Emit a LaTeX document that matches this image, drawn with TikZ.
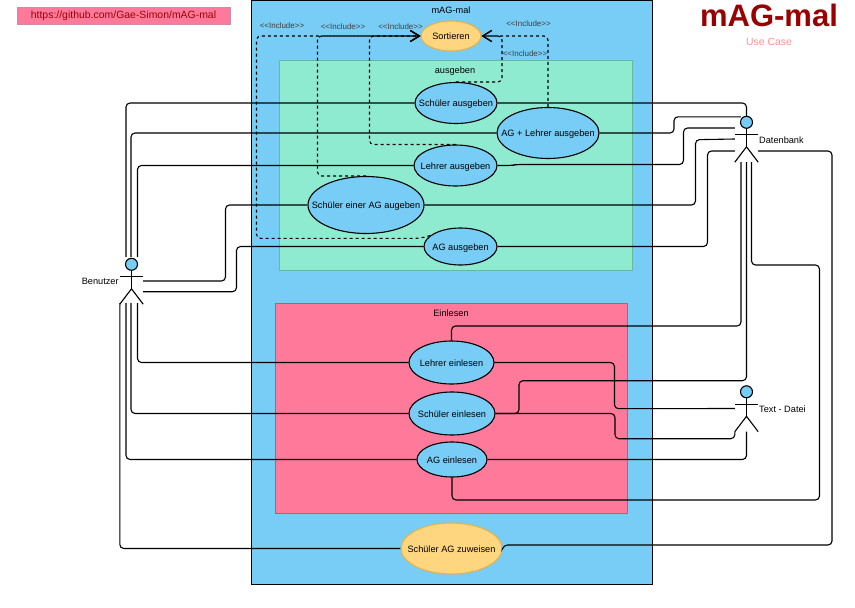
\documentclass[tikz,border=0pt]{standalone}
\usepackage{fontspec}
\setmainfont{Liberation Sans}
\usetikzlibrary{shapes.geometric, arrows.meta, positioning}
\definecolor{sysblue}{HTML}{77CDF5}
\definecolor{ausgreen}{HTML}{8FEBCF}
\definecolor{ausedge}{HTML}{66B89E}
\definecolor{einpink}{HTML}{FF7A9A}
\definecolor{einedge}{HTML}{B85C78}
\definecolor{sortfill}{HTML}{FFD680}
\definecolor{sortedge}{HTML}{E3B34A}
\definecolor{darkred}{HTML}{990000}
\definecolor{softred}{HTML}{FF9090}
\newcommand{\uc}[1]{\makebox[0pt]{\raisebox{-3.5pt}[0pt][0pt]{#1}}}

\begin{document}
\begin{tikzpicture}[
    x=1pt, y=-1pt,
    system/.style = {rectangle, minimum width=401pt, minimum height=584pt, inner sep=0pt,
                     draw=black, fill=sysblue, thick},
    group/.style = {rectangle, minimum width=353pt, minimum height=210pt, inner sep=0pt, thick},
    usecase/.style = {ellipse, inner sep=0pt, draw=black, fill=sysblue, line width=1.1pt,
                      font=\fontsize{9.2}{11}\selectfont},
    extra/.style = {ellipse, inner sep=0pt, draw=sortedge, fill=sortfill, line width=1.1pt,
                    font=\fontsize{9.2}{11}\selectfont},
    actor/.style = {rectangle, minimum width=23pt, minimum height=46pt, inner sep=0pt},
    label/.style = {font=\fontsize{9.2}{11}\selectfont, inner sep=0pt},
    include/.style = {font=\fontsize{8}{9}\selectfont, text=black!75, inner sep=0pt},
    conn/.style = {line width=1.1pt, rounded corners=4pt},
    dep/.style = {line width=1.1pt, rounded corners=4pt, dash pattern=on 3pt off 3pt,
                  -{Straight Barb[length=9pt, width=11pt, line width=1.2pt]}},
    stick/.style = {line width=1.1pt}
]
\useasboundingbox (0,0) rectangle (855,608);

% Background boxes
\node[system] (sysbox) at (451.5,292) {};
\node[group, draw=ausedge, fill=ausgreen] (ausbox) at (455.5,165) {};
\node[group, draw=einedge, fill=einpink, minimum width=352pt] (einbox) at (451.5,408) {};

% Header
\node[rectangle, minimum width=213pt, minimum height=17pt, inner sep=0pt, draw=einedge!70, fill=einpink,
      text=darkred, font=\fontsize{10.45}{13}\selectfont, thick] (url) at (123.5,15.5) {https://github.com/Gae-Simon/mAG-mal};
\node[font=\fontsize{31}{36}\bfseries\selectfont, text=darkred, inner sep=0pt] (title) at (769,15) {mAG-mal};
\node[font=\fontsize{10.4}{12}\selectfont, text=softred, inner sep=0pt] (subtitle) at (769,41.5) {Use Case};

% Box labels
\node[label] (syslabel) at (451,10) {mAG-mal};
\node[label] (auslabel) at (455,71) {ausgeben};
\node[label] (einlabel) at (451,313) {Einlesen};

% Use cases - ausgeben
\node[extra, minimum width=60pt, minimum height=30pt] (sort) at (451,36) {\uc{Sortieren}};
\node[usecase, minimum width=82pt, minimum height=41pt] (sa) at (456,103) {\uc{Schüler ausgeben}};
\node[usecase, minimum width=102pt, minimum height=51pt] (agl) at (548,133) {\uc{AG + Lehrer ausgeben}};
\node[usecase, minimum width=83pt, minimum height=41pt] (la) at (455.5,165.5) {\uc{Lehrer ausgeben}};
\node[usecase, minimum width=116pt, minimum height=57pt] (sag) at (366,205) {\uc{Schüler einer AG augeben}};
\node[usecase, minimum width=73pt, minimum height=37pt] (aga) at (460.5,246.5) {\uc{AG ausgeben}};

% Use cases - Einlesen
\node[usecase, minimum width=85pt, minimum height=43pt] (le) at (451.5,362.5) {\uc{Lehrer einlesen}};
\node[usecase, minimum width=86pt, minimum height=43pt] (se) at (452,413.5) {\uc{Schüler einlesen}};
\node[usecase, minimum width=70pt, minimum height=35pt] (age) at (452,459.5) {\uc{AG einlesen}};
\node[extra, minimum width=101pt, minimum height=51pt] (zuw) at (451.5,548.5) {\uc{Schüler AG zuweisen}};

% Actors
\node[actor] (benutzer) at (131.5,281) {};
\node[actor] (datenbank) at (746.5,139) {};
\node[actor] (textdatei) at (746.5,408.5) {};
\foreach \n in {benutzer, datenbank, textdatei} {
    \draw[stick, fill=sysblue] ([yshift=-6.5pt]\n.north) circle (6pt);
    \draw[stick] ([yshift=-12.5pt]\n.north) -- ([yshift=-31pt]\n.north);
    \draw[stick] ([yshift=-19pt]\n.north west) -- ([yshift=-19pt]\n.north east);
    \draw[stick] (\n.south west) -- ([yshift=-31pt]\n.north) -- (\n.south east);
}
\node[label, left=1pt of benutzer.west, yshift=-0.5pt] (benlabel) {Benutzer};
\node[label, anchor=west] (dblabel) at (759,140) {Datenbank};
\node[label, anchor=west] (txtlabel) at (759,409) {Text - Datei};

% Connectors - Benutzer
\draw[conn] (sa.west) -| ([xshift=-5.5pt,yshift=1pt]benutzer.north);
\draw[conn] (agl.west) -| ([xshift=-0.5pt,yshift=1pt]benutzer.north);
\draw[conn] (la.west) -| ([xshift=6pt,yshift=1pt]benutzer.north);
\draw[conn] (sag.west) -| (225.5,281) -- (benutzer.east);
\draw[conn] (aga.west) -| (236.5,291.7) -- ([yshift=-10.7pt]benutzer.east);
\draw[conn] (le.west) -| ([xshift=6pt,yshift=1pt]benutzer.south);
\draw[conn] (se.west) -| ([xshift=-0.5pt,yshift=1pt]benutzer.south);
\draw[conn] (age.west) -| ([xshift=-5.5pt,yshift=1pt]benutzer.south);
\draw[conn] (zuw.west) -| ([yshift=1pt]benutzer.south west);

% Connectors - Datenbank
\draw[conn] (sa.east) -| ([yshift=-1pt]datenbank.north);
\draw[conn] (agl.east) -- (674,133) |- ([xshift=-5.5pt,yshift=-1pt]datenbank.north);
\draw[conn] (la.east) -- (512,165.5) -- (516,164.5) -| (683.5,128) -- ([yshift=11pt]datenbank.west);
\draw[conn] (sag.east) -| (695.5,139.7) -- (datenbank.west);
\draw[conn] (aga.east) -| (707.5,151) -- ([yshift=-12pt]datenbank.west);
\draw[conn] (zuw.east) -- (503.5,545) -| (832,151) -- ([yshift=-12pt]datenbank.east);
\draw[conn] (le.north) |- (741,326) -- ([xshift=-5.5pt]datenbank.south);
\draw[conn] (se.east) -- (519,413.5) |- (746.5,380.7) -- (datenbank.south);
\draw[conn] (age.south) |- (819.5,500) |- (751.5,265) -- ([xshift=5pt]datenbank.south);

% Connectors - Text - Datei
\draw[conn] (le.east) -| (614.5,408.7) -- (textdatei.west);
\draw[conn] (se.east) -| (615,438.7) -| (textdatei.south west);
\draw[conn] (age.east) -| (textdatei.south);

% Include arrows
\draw[dep] (aga.160) -- (420,238.3) -| (256.5,36) -- (sort.west);
\draw[dep] (sag.north) -| (317.5,36) -- (sort.west);
\draw[dep] (la.north) -| (369.5,36) -- (sort.west);
\draw[dep] (sa.north) -| (502,36) -- (sort.east);
\draw[dep] (agl.north) |- (sort.east);

% Include labels
\node[include] (inc1) at (282,26) {<{}<Include>{}>};
\node[include] (inc2) at (343,27) {<{}<Include>{}>};
\node[include] (inc3) at (400.5,27) {<{}<Include>{}>};
\node[include] (inc4) at (528.5,24) {<{}<Include>{}>};
\node[include] (inc5) at (525,54) {<{}<Include>{}>};

\end{tikzpicture}
\end{document}
